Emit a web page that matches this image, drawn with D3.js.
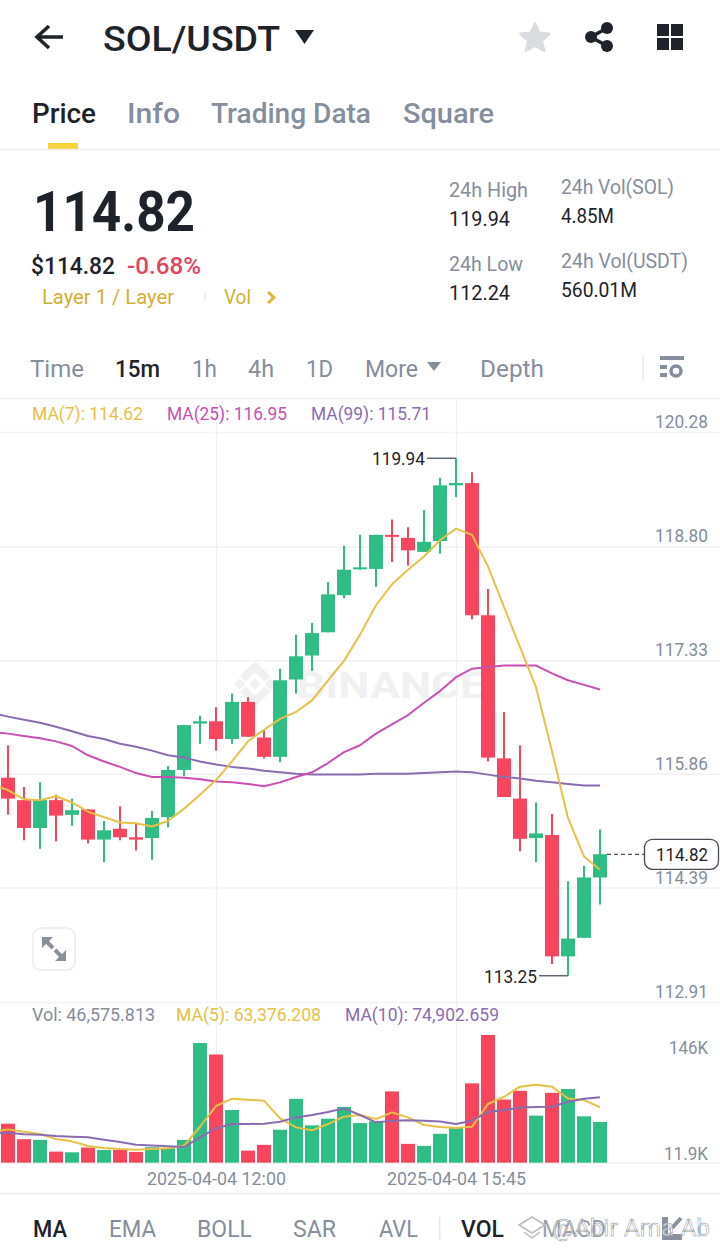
<!DOCTYPE html>
<html>
<head>
<meta charset="utf-8">
<style>
html, body { margin: 0; padding: 0; background: #fff; }
svg { display: block; }
text { font-family: Roboto, "Noto Sans", sans-serif; }
</style>
<script src="https://cdn.jsdelivr.net/npm/d3@7"></script>
</head>
<body>
<div id="chart"></div>
<script>
// candles, oldest first (15m)
var opens = [115.81,115.52,115.16,115.52,115.33,115.40,115.01,115.15,115.04,115.03,115.30,115.91,116.51,116.54,116.31,116.79,116.33,116.08,117.08,117.39,117.69,118.17,118.51,118.51,118.95,118.91,118.73,118.87,119.59,119.62,117.91,116.06,115.54,115.03,115.07,113.50,113.74,114.52];
var closes = [115.54,115.16,115.52,115.32,115.39,115.01,115.13,115.04,115.01,115.29,115.91,116.49,116.54,116.31,116.79,116.34,116.08,117.07,117.38,117.68,118.18,118.50,118.53,118.95,118.93,118.75,118.86,119.59,119.62,117.91,116.07,115.56,115.02,115.09,113.50,113.73,114.52,114.82];
var highs = [116.23,115.69,115.75,115.59,115.54,115.40,115.25,115.44,115.22,115.38,115.96,116.49,116.61,116.72,116.90,116.85,116.44,117.22,117.66,117.81,118.34,118.81,118.95,118.95,119.15,119.05,119.27,119.69,119.94,119.76,118.25,116.66,116.23,115.49,115.34,114.47,114.67,115.14];
var lows = [115.33,115.00,114.89,114.99,115.19,114.96,114.72,115.00,114.87,114.75,115.17,115.83,116.25,116.16,116.25,116.34,116.06,116.01,116.90,117.19,117.69,118.13,118.50,118.28,118.60,118.55,118.73,118.71,119.44,117.86,116.02,115.56,114.86,114.72,113.40,113.25,113.74,114.17];
var volumes = [44600,26900,26100,12700,11900,17300,14600,14600,12300,17700,16500,26100,136800,123700,60300,13800,20400,37700,73000,42700,50300,63800,45300,47300,81500,21500,19200,33000,39600,90700,146000,72200,82200,53800,79900,84200,53000,46575.813];

// moving averages start one candle before the first visible one
var ma7 = [115.72,115.65,115.53,115.52,115.57,115.49,115.37,115.30,115.23,115.22,115.18,115.25,115.41,115.59,115.78,116.02,116.28,116.43,116.57,116.66,116.81,117.07,117.32,117.66,118.04,118.31,118.50,118.67,118.88,119.03,118.95,118.54,118.02,117.50,116.98,116.15,115.29,114.79,114.62];
var ma25 = [116.40,116.38,116.35,116.32,116.28,116.22,116.10,116.02,115.95,115.87,115.82,115.82,115.81,115.79,115.76,115.75,115.73,115.70,115.75,115.82,115.88,116.00,116.14,116.23,116.38,116.50,116.62,116.78,116.93,117.11,117.22,117.24,117.26,117.26,117.26,117.16,117.07,117.01,116.95];
var ma99 = [116.65,116.60,116.56,116.52,116.47,116.41,116.35,116.31,116.25,116.21,116.16,116.10,116.07,116.02,115.98,115.95,115.93,115.90,115.88,115.86,115.85,115.85,115.85,115.85,115.86,115.86,115.86,115.87,115.88,115.89,115.88,115.85,115.82,115.80,115.77,115.75,115.73,115.71,115.71];
var volMa5 = [35400,38100,35400,32800,27100,24400,19100,16800,15600,14900,15600,16400,19400,41100,64800,73200,72000,70900,50700,40400,37000,44200,52600,54500,49900,57500,51800,43100,40800,39600,41100,67100,75400,86900,89200,86900,73500,71600,63376.208];
var volMa10 = [33500,34300,32400,32000,30500,29700,29000,26300,23600,20600,19800,18700,17900,29000,39200,44200,44200,44600,46900,51800,54500,57900,62100,54500,46100,48000,48400,48000,47200,44200,48000,57900,60200,63200,63600,64000,69700,73200,74902.659];

var priceTicks = [120.28,118.80,117.33,115.86,114.39,112.91];
var volumeTicks = [146000,11900];
var volumeTickLabels = ["146K","11.9K"];
var dateTickIndex = [13,28];
var dateTickLabels = ["2025-04-04 12:00","2025-04-04 15:45"];
var lastPrice = 114.82;
var highPrice = 119.94;
var lowPrice = 113.25;

var green = "#2EBD85", red = "#F6465D", yellow = "#E6C145", magenta = "#C94FB3", purple = "#8A6DB1";
var dark = "#1E2329", gray = "#848E9C", grid = "#F1F2F4", gold = "#D3B033";

var W = 720, H = 1248;
var svg = d3.select("#chart").append("svg").attr("width", W).attr("height", H);
svg.append("rect").attr("width", W).attr("height", H).attr("fill", "#fff");

var x = d3.scaleLinear().domain([0, opens.length - 1]).range([8, 600]);
var y = d3.scaleLinear().domain([112.91, 120.28]).range([1002, 432]);
var yVol = d3.scaleLinear().domain([0, 146000]).range([1162.7, 1035]);

function label(txt, px, py, size, color, weight, width, anchor) {
    var t = svg.append("text")
        .attr("x", px).attr("y", py)
        .attr("font-size", size)
        .attr("fill", color)
        .attr("font-weight", weight || 400)
        .text(txt);
    if (width) t.attr("textLength", width).attr("lengthAdjust", "spacingAndGlyphs");
    if (anchor) t.attr("text-anchor", anchor);
    return t;
}
function hline(x1, x2, py, color) {
    svg.append("line").attr("x1", x1).attr("x2", x2).attr("y1", py).attr("y2", py)
        .attr("stroke", color).attr("stroke-width", 1.5);
}

// --- header ---
svg.append("path").attr("d", "M63 37H38M49 26L37 37L49 48")
    .attr("fill", "none").attr("stroke", dark).attr("stroke-width", 3.6);
label("SOL/USDT", 103, 51, 35, dark, 500, 177);
svg.append("path").attr("d", "M295 30H314L304.5 44Z").attr("fill", dark);
svg.append("path").attr("d", "M535 23L539.5 32.5L550 33.5L542 41L544.5 51L535 46L525.5 51L528 41L520 33.5L530.5 32.5Z")
    .attr("fill", "#DADCE0").attr("stroke", "#DADCE0").attr("stroke-width", 2).attr("stroke-linejoin", "round");
svg.append("path").attr("d", "M607 28L591 37L607 46").attr("fill", "none").attr("stroke", dark).attr("stroke-width", 3.5);
[[607, 28], [591, 37], [607, 46]].forEach(function (c) {
    svg.append("circle").attr("cx", c[0]).attr("cy", c[1]).attr("r", 6).attr("fill", dark);
});
[[657, 24], [671, 24], [657, 38], [671, 38]].forEach(function (c) {
    svg.append("rect").attr("x", c[0]).attr("y", c[1]).attr("width", 12).attr("height", 12).attr("fill", dark);
});

label("Price", 32, 123, 28, dark, 500, 64);
label("Info", 127, 123, 28, gray, 500, 53);
label("Trading Data", 211, 123, 28, gray, 500, 160);
label("Square", 403, 123, 28, gray, 500, 91);
svg.append("rect").attr("x", 48).attr("y", 143).attr("width", 30).attr("height", 6).attr("fill", "#F8D33A");
hline(0, W, 149.5, "#EAECEF");

// --- ticker block ---
label("114.82", 33, 231, 55, dark, 700, 162);
label("$114.82", 31, 274, 24, dark, 500, 84);
label("-0.68%", 127, 274, 24, "#E0475E", 500, 74);
label("Layer 1 / Layer", 42, 304, 20, gold, 400, 132);
svg.append("rect").attr("x", 204).attr("y", 293).attr("width", 1.5).attr("height", 8).attr("fill", "#E6E8EB");
label("Vol", 224, 304, 20, gold, 400, 27);
svg.append("path").attr("d", "M268 292L274 297.5L268 303").attr("fill", "none").attr("stroke", "#E0B93A").attr("stroke-width", 3);

label("24h High", 449, 197, 20, gray, 400, 79);
label("119.94", 449, 226, 20, dark, 400, 61);
label("24h Vol(SOL)", 561, 194, 20, gray, 400, 113);
label("4.85M", 561, 223, 20, dark, 400, 53);
label("24h Low", 449, 271, 20, gray, 400, 74);
label("112.24", 449, 300, 20, dark, 400, 61);
label("24h Vol(USDT)", 561, 268, 20, gray, 400, 127);
label("560.01M", 561, 297, 20, dark, 400, 76);

// --- interval bar ---
label("Time", 30, 377, 24, gray, 400, 54);
label("15m", 115, 377, 24, dark, 500, 45);
label("1h", 192, 377, 24, gray, 400, 25);
label("4h", 248, 377, 24, gray, 400, 26);
label("1D", 306, 377, 24, gray, 400, 27);
label("More", 365, 377, 24, gray, 400, 53);
svg.append("path").attr("d", "M427 362H441L434 371Z").attr("fill", gray);
label("Depth", 480, 377, 24, gray, 400, 64);
svg.append("rect").attr("x", 642.5).attr("y", 356).attr("width", 1.5).attr("height", 24).attr("fill", "#EAECEF");
svg.append("rect").attr("x", 660).attr("y", 356).attr("width", 24).attr("height", 4).attr("fill", gray);
svg.append("rect").attr("x", 660).attr("y", 365).attr("width", 7).attr("height", 4).attr("fill", gray);
svg.append("rect").attr("x", 660).attr("y", 373).attr("width", 7).attr("height", 4).attr("fill", gray);
svg.append("circle").attr("cx", 676).attr("cy", 371).attr("r", 5).attr("fill", "none").attr("stroke", gray).attr("stroke-width", 3.5);
hline(0, W, 398.5, "#EFF0F2");

// --- watermark under the candles ---
var wm = svg.append("g").attr("fill", "#F0F1F2");
wm.append("path").attr("d", "M256 660L277 681L269 689L256 676L243 689L235 681ZM235 684L243 692L235 700L227 692ZM256 684L264 692L256 700L248 692ZM277 684L285 692L277 700L269 692ZM256 724L235 703L243 695L256 708L269 695L277 703Z")
    .attr("transform", "translate(255,684) scale(0.72) translate(-256,-692)");
wm.append("text").attr("x", 297).attr("y", 698).attr("font-size", 37).attr("font-weight", 700)
    .attr("textLength", 188).attr("lengthAdjust", "spacingAndGlyphs").text("BINANCE");

// --- axes, their tick lines are the grid ---
var yAxis = svg.append("g").attr("transform", "translate(" + W + ",0)")
    .call(d3.axisRight(y).tickValues(priceTicks).tickFormat(d3.format(".2f")).tickSize(-W));
yAxis.select(".domain").remove();
yAxis.selectAll("line").attr("stroke", grid).attr("stroke-width", 1.5);
yAxis.selectAll("text").attr("x", -12).attr("dy", 0).attr("y", -4.5)
    .attr("text-anchor", "end").attr("font-size", 18).attr("fill", gray)
    .style("font-family", "Roboto")
    .attr("textLength", 53).attr("lengthAdjust", "spacingAndGlyphs");

var xGrid = svg.append("g").attr("transform", "translate(0,1163)")
    .call(d3.axisBottom(x).tickValues(dateTickIndex)
        .tickFormat(function (d, i) { return dateTickLabels[i]; })
        .tickSize(-765));
xGrid.select(".domain").remove();
xGrid.selectAll("line").attr("stroke", grid).attr("stroke-width", 1.2);
xGrid.selectAll("text").attr("y", 22).attr("dy", 0)
    .attr("font-size", 18).attr("fill", gray).style("font-family", "Roboto")
    .attr("textLength", 139).attr("lengthAdjust", "spacingAndGlyphs");

hline(0, W, 1163, grid);
hline(0, W, 1193.5, "#EAECEF");

// --- candles ---
function candleColor(i) { return closes[i] >= opens[i] ? green : red; }
var candles = svg.append("g").selectAll("g").data(opens).enter().append("g");
candles.append("line")
    .attr("x1", function (d, i) { return x(i); })
    .attr("x2", function (d, i) { return x(i); })
    .attr("y1", function (d, i) { return y(highs[i]); })
    .attr("y2", function (d, i) { return y(lows[i]); })
    .attr("stroke", function (d, i) { return candleColor(i); })
    .attr("stroke-width", 2);
candles.append("rect")
    .attr("x", function (d, i) { return x(i) - 7; })
    .attr("width", 14)
    .attr("y", function (d, i) { return y(Math.max(opens[i], closes[i])); })
    .attr("height", function (d, i) { return Math.max(2, Math.abs(y(opens[i]) - y(closes[i]))); })
    .attr("fill", function (d, i) { return candleColor(i); });

// --- volume bars ---
svg.append("g").selectAll("rect").data(volumes).enter().append("rect")
    .attr("x", function (d, i) { return x(i) - 7; })
    .attr("width", 14)
    .attr("y", function (d) { return yVol(d); })
    .attr("height", function (d) { return yVol(0) - yVol(d); })
    .attr("fill", function (d, i) { return candleColor(i); });

// --- moving average lines ---
function drawLine(values, scale, color) {
    var line = d3.line()
        .x(function (d, i) { return x(i - 1); })
        .y(function (d) { return scale(d); });
    svg.append("path").attr("d", line(values)).attr("fill", "none")
        .attr("stroke", color).attr("stroke-width", 2).attr("stroke-linejoin", "round");
}
drawLine(ma99, y, purple);
drawLine(ma25, y, magenta);
drawLine(ma7, y, yellow);
drawLine(volMa5, yVol, yellow);
drawLine(volMa10, yVol, purple);

// --- volume axis labels ---
var volAxis = svg.append("g").attr("transform", "translate(" + W + ",0)")
    .call(d3.axisRight(yVol).tickValues(volumeTicks)
        .tickFormat(function (d, i) { return volumeTickLabels[i]; }).tickSize(0));
volAxis.select(".domain").remove();
volAxis.selectAll("text").attr("x", -12).attr("dy", 0)
    .attr("y", function (d, i) { return i === 0 ? 18 : 7; })
    .attr("text-anchor", "end").attr("font-size", 18).attr("fill", gray)
    .style("font-family", "Roboto")
    .attr("textLength", function (d, i) { return i === 0 ? 39 : 44; })
    .attr("lengthAdjust", "spacingAndGlyphs");

// --- legends ---
label("MA(7): " + ma7[ma7.length - 1].toFixed(2), 32, 420, 18, yellow, 400, 111);
label("MA(25): " + ma25[ma25.length - 1].toFixed(2), 167, 420, 18, magenta, 400, 120);
label("MA(99): " + ma99[ma99.length - 1].toFixed(2), 311, 420, 18, purple, 400, 120);
label("Vol: " + d3.format(",.3f")(volumes[volumes.length - 1]), 32, 1021, 18, gray, 400, 123);
label("MA(5): " + d3.format(",.3f")(volMa5[volMa5.length - 1]), 176, 1021, 18, yellow, 400, 145);
label("MA(10): " + d3.format(",.3f")(volMa10[volMa10.length - 1]), 345, 1021, 18, purple, 400, 154);

// --- high / low callouts ---
var iHigh = highs.indexOf(highPrice), iLow = lows.indexOf(lowPrice);
svg.append("path").attr("d", "M" + (x(iHigh) - 29) + " " + y(highPrice) + "H" + x(iHigh))
    .attr("stroke", "#5E6673").attr("stroke-width", 1.5);
label(highPrice.toFixed(2), x(iHigh) - 31, y(highPrice) + 7, 18, dark, 400, 53, "end");
svg.append("path").attr("d", "M" + (x(iLow) - 29) + " " + y(lowPrice) + "H" + x(iLow))
    .attr("stroke", "#5E6673").attr("stroke-width", 1.5);
label(lowPrice.toFixed(2), x(iLow) - 31, y(lowPrice) + 7, 18, dark, 400, 53, "end");

// --- last price tag ---
svg.append("line").attr("x1", 607).attr("x2", 644).attr("y1", y(lastPrice)).attr("y2", y(lastPrice))
    .attr("stroke", "#474D57").attr("stroke-width", 1.2).attr("stroke-dasharray", "4 3");
svg.append("rect").attr("x", 644.5).attr("y", y(lastPrice) - 15).attr("width", 74).attr("height", 30).attr("rx", 8)
    .attr("fill", "#fff").attr("stroke", "#474D57").attr("stroke-width", 1.3);
label(lastPrice.toFixed(2), 708, y(lastPrice) + 7, 18, dark, 400, 52, "end");

// --- expand button ---
svg.append("rect").attr("x", 33).attr("y", 928).attr("width", 42).attr("height", 42).attr("rx", 8)
    .attr("fill", "#fff").attr("stroke", "#E9EBEE").attr("stroke-width", 1.5);
svg.append("path").attr("d", "M42 937H53L42 948ZM66 961H55L66 950Z").attr("fill", "#8A919C");
svg.append("path").attr("d", "M46 941L54 949M62 957L54 949").attr("stroke", "#8A919C").attr("stroke-width", 0);
svg.append("path").attr("d", "M46 941L53 948M62 957L55 950").attr("stroke", "#8A919C").attr("stroke-width", 4);

// --- bottom tabs ---
label("MA", 33, 1237, 24, dark, 500, 34);
label("EMA", 109, 1237, 24, gray, 400, 47);
label("BOLL", 197, 1237, 24, gray, 400, 55);
label("SAR", 293, 1237, 24, gray, 400, 43);
label("AVL", 379, 1237, 24, gray, 400, 39);
svg.append("rect").attr("x", 439).attr("y", 1217).attr("width", 1.5).attr("height", 23).attr("fill", "#E6E8EB");
label("VOL", 461, 1237, 24, dark, 500, 43);
label("MACD", 542, 1237, 24, "#9AA1AC", 400, 64);
svg.append("path").attr("d", "M662 1217H668V1234H682V1240H662Z").attr("fill", "#8A919C");
svg.append("path").attr("d", "M672 1228L681 1218").attr("stroke", "#8A919C").attr("stroke-width", 4);

// --- repost watermark over the tabs ---
svg.append("path").attr("d", "M519 1225L532 1217L545 1225L532 1233ZM524 1232L532 1238L540 1232")
    .attr("fill", "none").attr("stroke", "#B9BEC6").attr("stroke-width", 1.5);
label("@Abir Ama Ab", 552, 1236, 23, "#fff", 400, 158)
    .attr("fill-opacity", 0.6)
    .attr("stroke", "#8D949E").attr("stroke-width", 0.5);
</script>
</body>
</html>
